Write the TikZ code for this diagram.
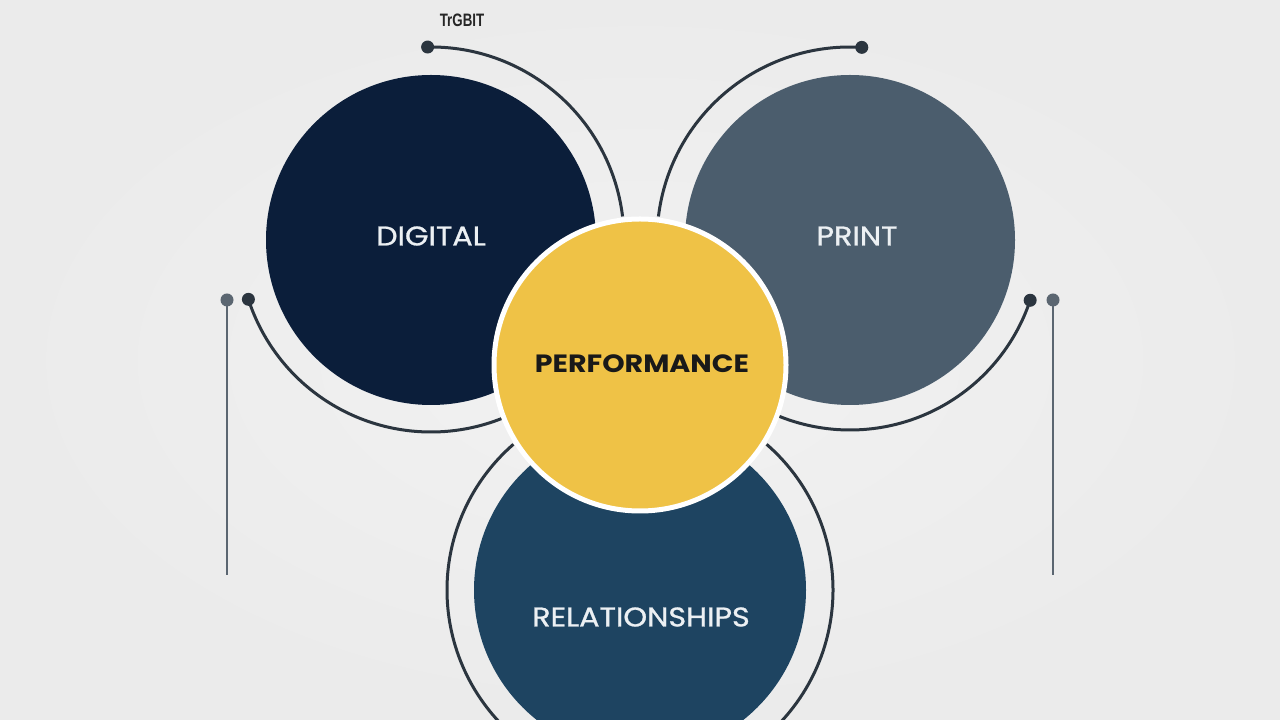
\documentclass[tikz,border=0pt]{standalone}
\usepackage{fontspec}
\setmainfont{Poppins}
\newfontfamily\medfont{Poppins}[FakeBold=0.9]
\newfontfamily\smallfont{Liberation Sans}
\definecolor{bgin}{RGB}{242,242,242}
\definecolor{bgout}{RGB}{235,235,235}
\definecolor{digitalc}{RGB}{11,30,58}
\definecolor{printc}{RGB}{75,93,109}
\definecolor{relc}{RGB}{30,68,97}
\definecolor{perfc}{RGB}{239,194,70}
\definecolor{ringc}{RGB}{43,53,63}
\definecolor{stemc}{RGB}{91,102,113}
\definecolor{labelc}{RGB}{236,240,243}
\tikzset{
  bubble/.style={circle, inner sep=0pt, minimum size=#1},
  ring/.style={draw=ringc, line width=3pt},
  stem/.style={draw=stemc, line width=2.5pt},
  lbl/.style={font=\medfont\fontsize{27}{30}\selectfont, text=labelc, inner sep=0pt, anchor=center, xscale=1.12},
}
\begin{document}
\begin{tikzpicture}[x=1pt,y=1pt]
\useasboundingbox (0,0) rectangle (1280,720);
\shade[inner color=bgin, outer color=bgout] (0,0) rectangle (1280,720);
\clip (0,0) rectangle (1280,720);

% main circles
\node[bubble=332pt, fill=relc] (rel) at (640,130) {};
\node[bubble=330pt, fill=digitalc] (digital) at (431,480) {};
\node[bubble=330pt, fill=printc] (print) at (850,480) {};

% rings around DIGITAL
\coordinate (dA) at ([shift={(91:193)}]digital.center);
\coordinate (dB) at ([shift={(198:192)}]digital.center);
\draw[ring] (dA) arc[start angle=91, end angle=7, radius=193];
\draw[ring] (dB) arc[start angle=198, end angle=292, radius=192];
\fill[ringc] (dA) circle[radius=6.5];
\fill[ringc] (dB) circle[radius=6.5];

% rings around PRINT
\coordinate (pA) at ([shift={(86.5:193)}]print.center);
\coordinate (pB) at ([shift={(-18.5:190)}]print.center);
\draw[ring] (pA) arc[start angle=86.5, end angle=173, radius=193];
\draw[ring] (pB) arc[start angle=-18.5, end angle=-112, radius=190];
\fill[ringc] (pA) circle[radius=6.5];
\fill[ringc] (pB) circle[radius=6.5];

% rings around RELATIONSHIPS
\coordinate (rA) at ([shift={(131:193)}]rel.center);
\coordinate (rB) at ([shift={(49:193)}]rel.center);
\draw[ring] (rA) arc[start angle=131, end angle=240, radius=193];
\draw[ring] (rB) arc[start angle=49, end angle=-60, radius=193];

% side stems
\coordinate (lTop) at (227,420);
\coordinate (lBot) at (227,145);
\coordinate (rTop) at (1053,420);
\coordinate (rBot) at (1053,145);
\draw[stem] (lTop) -- (lBot);
\draw[stem] (rTop) -- (rBot);
\fill[stemc] (lTop) circle[radius=6.5];
\fill[stemc] (rTop) circle[radius=6.5];

% central circle
\node[bubble=292pt, fill=perfc, draw=white, line width=5pt] (perf) at (640,355) {};

% labels
\node[lbl] (tdig) at (431,484) {DIGITAL};
\node[lbl] (tprint) at (857,484) {PRINT};
\node[lbl] (trel) at (641,103) {RELATIONSHIPS};
\node[text=black!90, font=\fontsize{25}{28}\selectfont\bfseries, inner sep=0pt, xscale=1.14] (tperf) at (642,356) {PERFORMANCE};
\node[font=\smallfont\bfseries\fontsize{18}{21}\selectfont, text=black!85, inner sep=0pt, xscale=0.74] (tiny) at (462,700) {TrGBIT};
\end{tikzpicture}
\end{document}
